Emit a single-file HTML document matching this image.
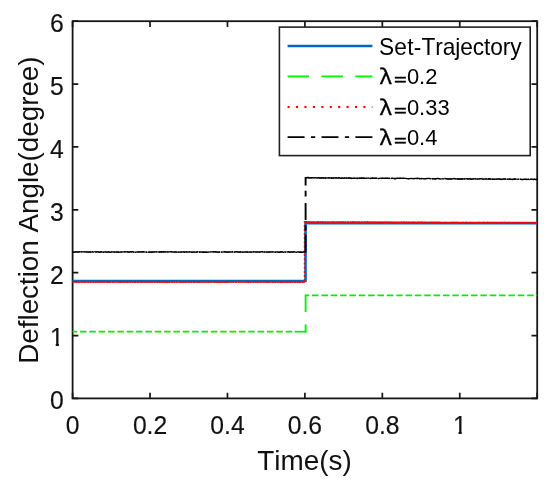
<!DOCTYPE html>
<html><head><meta charset="utf-8"><title>plot</title>
<style>
html,body{margin:0;padding:0;background:#fff;}
svg{display:block}
text{font-family:"Liberation Sans",sans-serif;fill:#111;font-kerning:none;}
.tk{font-size:24.7px;stroke:#111;stroke-width:0.15px}
.lb{font-size:27.9px}
.lg{font-size:21.95px;fill:#000}
.lam{font-family:"Noto Sans CJK SC","Liberation Sans",sans-serif;font-size:19.8px;fill:#000}
</style></head><body>
<svg width="550" height="481" viewBox="0 0 550 481">
<rect width="550" height="481" fill="#fff"/>
<defs><clipPath id="c1x"><path d="M-9.87 -30.00H13.13V-2.30H1.96V3.00H-1.19V-2.30H-9.87Z"/></clipPath><clipPath id="c1y"><path d="M-16.73 -30.00H6.27V-2.30H-4.91V3.00H-8.06V-2.30H-16.73Z"/></clipPath></defs>
<rect x="72.6" y="21.2" width="464.6" height="377.2" fill="#fff" stroke="#161616" stroke-width="1.8"/>
<path d="M72.60 398.4v-5.7M72.60 21.2v5.7M150.03 398.4v-5.7M150.03 21.2v5.7M227.47 398.4v-5.7M227.47 21.2v5.7M304.90 398.4v-5.7M304.90 21.2v5.7M382.33 398.4v-5.7M382.33 21.2v5.7M459.77 398.4v-5.7M459.77 21.2v5.7M537.20 398.4v-5.7M537.20 21.2v5.7M72.6 398.40h5.7M537.2 398.40h-5.7M72.6 335.53h5.7M537.2 335.53h-5.7M72.6 272.67h5.7M537.2 272.67h-5.7M72.6 209.80h5.7M537.2 209.80h-5.7M72.6 146.93h5.7M537.2 146.93h-5.7M72.6 84.07h5.7M537.2 84.07h-5.7M72.6 21.20h5.7M537.2 21.20h-5.7" stroke="#161616" stroke-width="1.7" fill="none"/>
<text transform="translate(72.60 434.40) scale(1.0 1.04)" text-anchor="middle" class="tk">0</text>
<text transform="translate(150.03 434.40) scale(1.0 1.04)" text-anchor="middle" class="tk">0.2</text>
<text transform="translate(227.47 434.40) scale(1.0 1.04)" text-anchor="middle" class="tk">0.4</text>
<text transform="translate(304.90 434.40) scale(1.0 1.04)" text-anchor="middle" class="tk">0.6</text>
<text transform="translate(382.33 434.40) scale(1.0 1.04)" text-anchor="middle" class="tk">0.8</text>
<text transform="translate(459.77 434.40) scale(1.0 1.04)" text-anchor="middle" class="tk" clip-path="url(#c1x)">1</text>
<text transform="translate(63.80 409.35) scale(1.0 1.04)" text-anchor="end" class="tk">0</text>
<text transform="translate(63.80 346.48) scale(1.0 1.04)" text-anchor="end" class="tk" clip-path="url(#c1y)">1</text>
<text transform="translate(63.80 283.62) scale(1.0 1.04)" text-anchor="end" class="tk">2</text>
<text transform="translate(63.80 220.75) scale(1.0 1.04)" text-anchor="end" class="tk">3</text>
<text transform="translate(63.80 157.88) scale(1.0 1.04)" text-anchor="end" class="tk">4</text>
<text transform="translate(63.80 95.02) scale(1.0 1.04)" text-anchor="end" class="tk">5</text>
<text transform="translate(63.80 32.15) scale(1.0 1.04)" text-anchor="end" class="tk">6</text>
<text transform="translate(304.50 469.90) scale(1.0 1.02)" text-anchor="middle" class="lb">Time(s)</text>
<text transform="translate(37.80 210.10) rotate(-90) scale(1.0 1.02)" text-anchor="middle" class="lb" style="font-size:27.8px">Deflection Angle(degree)</text>
<path d="M306.5 331.7H294.6" stroke="#00f000" fill="none" stroke-width="1.7"/>
<path d="M292.20000000000005 331.7H72.6" stroke="#00f000" fill="none" stroke-width="1.7" stroke-dasharray="6.55 2.8"/>
<path d="M305.6 295.3H537.2" stroke="#00f000" fill="none" stroke-width="1.7" stroke-dasharray="6.55 2.8" stroke-dashoffset="2.9"/>
<path d="M305.6 332.4V294.4" stroke="#00f000" fill="none" stroke-width="1.8" stroke-dasharray="7.9 12.5 40"/>
<path d="M72.6 281.0H305.50V223.1H537.2" stroke="#0568bd" stroke-width="2.6" fill="none"/>
<path d="M72.6 282.1H304.80" stroke="#ff0000" fill="none" stroke-linejoin="round" stroke-width="1.3" stroke-dasharray="2.2 0.6"/>
<path d="M304.80 222.0L537.2 222.9" stroke="#ff0000" fill="none" stroke-linejoin="round" stroke-width="1.3" stroke-dasharray="2.2 0.6"/>
<path d="M72.6 281.99L73.9 281.89L75.2 282.19L76.5 281.84L77.8 282.12L79.1 282.02L80.4 281.83L81.7 282.10L83.0 281.82L84.3 282.06L85.6 281.84L86.9 281.85L88.3 282.05L89.6 282.30L90.9 281.87L92.2 281.93L93.5 282.18L94.8 282.37L96.1 282.15L97.4 282.04L98.7 282.39L100.0 281.83L101.3 282.32L102.6 281.97L103.9 281.89L105.2 281.87L106.5 281.99L107.8 282.29L109.1 281.91L110.4 282.15L111.7 282.18L113.0 282.02L114.3 282.13L115.6 281.84L117.0 281.84L118.3 281.92L119.6 282.21L120.9 282.06L122.2 281.99L123.5 282.15L124.8 282.07L126.1 281.98L127.4 282.28L128.7 282.22L130.0 281.95L131.3 282.14L132.6 282.12L133.9 282.33L135.2 282.24L136.5 281.97L137.8 282.39L139.1 281.87L140.4 282.05L141.7 282.25L143.0 281.89L144.3 282.09L145.7 281.82L147.0 282.20L148.3 282.26L149.6 282.14L150.9 282.33L152.2 281.99L153.5 282.22L154.8 282.16L156.1 282.15L157.4 282.07L158.7 282.30L160.0 282.37L161.3 282.08L162.6 282.20L163.9 281.84L165.2 282.22L166.5 282.19L167.8 282.40L169.1 282.29L170.4 281.97L171.7 282.03L173.0 282.20L174.4 281.81L175.7 282.08L177.0 281.90L178.3 281.87L179.6 281.84L180.9 282.26L182.2 281.88L183.5 281.95L184.8 282.03L186.1 282.32L187.4 281.85L188.7 282.07L190.0 282.13L191.3 282.33L192.6 282.29L193.9 282.32L195.2 281.97L196.5 282.05L197.8 282.02L199.1 282.33L200.4 282.37L201.7 281.89L203.0 281.91L204.4 281.94L205.7 281.94L207.0 282.09L208.3 282.15L209.6 281.96L210.9 281.80L212.2 282.05L213.5 282.02L214.8 282.14L216.1 282.37L217.4 282.21L218.7 282.11L220.0 282.17L221.3 282.21L222.6 281.83L223.9 282.34L225.2 282.27L226.5 282.32L227.8 282.28L229.1 282.04L230.4 282.04L231.7 281.86L233.1 282.18L234.4 281.84L235.7 281.84L237.0 281.93L238.3 281.90L239.6 282.00L240.9 281.83L242.2 281.80L243.5 281.89L244.8 281.86L246.1 282.02L247.4 281.82L248.7 282.32L250.0 282.17L251.3 281.89L252.6 281.95L253.9 282.01L255.2 282.02L256.5 281.87L257.8 282.31L259.1 282.40L260.4 282.08L261.8 282.09L263.1 281.85L264.4 281.86L265.7 282.01L267.0 281.96L268.3 282.30L269.6 281.90L270.9 281.81L272.2 282.37L273.5 282.12L274.8 281.89L276.1 282.13L277.4 281.82L278.7 282.12L280.0 282.39L281.3 282.32L282.6 282.22L283.9 281.96L285.2 282.02L286.5 281.90L287.8 282.26L289.1 282.12L290.5 282.27L291.8 282.00L293.1 281.93L294.4 282.29L295.7 282.39L297.0 282.31L298.3 282.28L299.6 282.29L300.9 282.24L302.2 281.94L303.5 282.11L304.8 282.01" stroke="#ff0000" fill="none" stroke-linejoin="round" stroke-width="1.4" stroke-dasharray="2 0.5"/>
<path d="M304.8 221.72L306.1 221.72L307.4 221.88L308.7 221.87L310.0 222.14L311.3 222.30L312.6 222.00L313.9 222.30L315.2 222.33L316.6 222.32L317.9 221.97L319.2 221.89L320.5 221.90L321.8 221.88L323.1 221.89L324.4 222.15L325.7 222.32L327.0 222.29L328.3 222.08L329.6 222.19L330.9 222.28L332.2 221.86L333.5 222.21L334.8 222.36L336.1 222.29L337.4 222.28L338.7 222.12L340.1 221.94L341.4 222.32L342.7 222.05L344.0 222.33L345.3 222.44L346.6 222.10L347.9 222.11L349.2 222.44L350.5 222.31L351.8 221.98L353.1 221.96L354.4 221.98L355.7 222.44L357.0 222.39L358.3 222.00L359.6 222.41L360.9 222.51L362.2 222.32L363.6 222.14L364.9 222.26L366.2 222.02L367.5 221.95L368.8 222.53L370.1 222.34L371.4 222.27L372.7 222.52L374.0 222.23L375.3 222.50L376.6 222.47L377.9 222.11L379.2 222.14L380.5 222.17L381.8 222.14L383.1 222.36L384.4 222.16L385.7 222.26L387.1 222.10L388.4 222.57L389.7 222.24L391.0 222.31L392.3 222.39L393.6 222.59L394.9 222.30L396.2 222.60L397.5 222.36L398.8 222.38L400.1 222.38L401.4 222.09L402.7 222.34L404.0 222.19L405.3 222.09L406.6 222.57L407.9 222.20L409.2 222.39L410.6 222.54L411.9 222.45L413.2 222.32L414.5 222.44L415.8 222.46L417.1 222.61L418.4 222.20L419.7 222.48L421.0 222.30L422.3 222.32L423.6 222.62L424.9 222.47L426.2 222.51L427.5 222.63L428.8 222.73L430.1 222.45L431.4 222.56L432.8 222.50L434.1 222.51L435.4 222.62L436.7 222.48L438.0 222.54L439.3 222.51L440.6 222.79L441.9 222.65L443.2 222.76L444.5 222.81L445.8 222.40L447.1 222.59L448.4 222.82L449.7 222.77L451.0 222.35L452.3 222.34L453.6 222.54L454.9 222.32L456.3 222.43L457.6 222.34L458.9 222.70L460.2 222.77L461.5 222.84L462.8 222.40L464.1 222.75L465.4 222.72L466.7 222.41L468.0 222.86L469.3 222.92L470.6 222.47L471.9 222.92L473.2 222.59L474.5 222.65L475.8 222.96L477.1 222.87L478.4 222.47L479.8 222.64L481.1 222.69L482.4 222.59L483.7 222.51L485.0 222.59L486.3 222.84L487.6 222.42L488.9 222.75L490.2 222.68L491.5 222.43L492.8 222.63L494.1 222.81L495.4 222.75L496.7 222.48L498.0 223.04L499.3 222.93L500.6 223.04L501.9 222.53L503.3 222.63L504.6 222.50L505.9 222.95L507.2 222.65L508.5 222.57L509.8 222.75L511.1 223.05L512.4 223.00L513.7 222.66L515.0 222.60L516.3 223.07L517.6 222.87L518.9 222.95L520.2 222.59L521.5 222.57L522.8 222.96L524.1 222.80L525.4 222.60L526.8 223.12L528.1 222.95L529.4 223.05L530.7 222.62L532.0 223.09L533.3 222.62L534.6 223.11L535.9 222.87L537.2 222.80" stroke="#ff0000" fill="none" stroke-linejoin="round" stroke-width="1.4" stroke-dasharray="2 0.5"/>
<path d="M304.70 282.5V221" stroke="#ff0000" stroke-width="1.8" fill="none" stroke-dasharray="2 2.2" stroke-dashoffset="-1.2"/>
<path d="M72.6 252.0H305.6" stroke="#000" fill="none" stroke-linejoin="round" stroke-width="1.2" stroke-dasharray="9 0.8 2 0.8"/>
<path d="M305.6 177.8L537.2 179.4" stroke="#000" fill="none" stroke-linejoin="round" stroke-width="1.2" stroke-dasharray="9 0.8 2 0.8"/>
<path d="M72.6 252.04L73.9 252.34L75.2 251.81L76.5 251.70L77.8 252.02L79.1 251.79L80.4 251.69L81.7 251.73L83.0 251.64L84.3 251.76L85.6 251.85L86.9 251.84L88.2 252.21L89.5 251.83L90.8 252.00L92.1 251.74L93.4 251.88L94.7 251.61L96.0 251.80L97.3 251.61L98.6 252.19L99.9 252.04L101.2 251.75L102.5 251.98L103.8 252.35L105.1 251.69L106.4 252.26L107.7 251.95L109.0 252.00L110.3 252.27L111.7 251.91L113.0 252.01L114.3 252.15L115.6 252.39L116.9 251.87L118.2 252.27L119.5 252.17L120.8 252.11L122.1 251.92L123.4 251.88L124.7 251.64L126.0 251.70L127.3 251.66L128.6 252.19L129.9 251.80L131.2 251.73L132.5 251.67L133.8 252.27L135.1 252.30L136.4 252.14L137.7 251.83L139.0 251.79L140.3 251.83L141.6 251.97L142.9 251.73L144.2 251.96L145.5 251.81L146.8 252.37L148.1 252.38L149.4 252.04L150.7 251.80L152.0 252.37L153.3 251.85L154.6 251.89L155.9 251.60L157.2 251.91L158.5 251.98L159.8 252.00L161.1 251.76L162.4 252.00L163.7 251.60L165.0 251.81L166.3 251.67L167.6 251.92L168.9 251.63L170.2 251.62L171.5 251.84L172.8 251.79L174.1 252.07L175.4 252.02L176.7 252.20L178.0 252.13L179.3 252.17L180.6 252.30L181.9 251.91L183.2 251.86L184.5 252.39L185.8 251.72L187.1 252.18L188.4 252.11L189.8 251.64L191.1 252.27L192.4 252.31L193.7 252.10L195.0 252.19L196.3 252.25L197.6 251.71L198.9 252.02L200.2 252.00L201.5 252.27L202.8 252.24L204.1 252.26L205.4 252.07L206.7 252.31L208.0 252.15L209.3 252.15L210.6 251.78L211.9 251.62L213.2 251.71L214.5 251.89L215.8 251.68L217.1 252.27L218.4 252.05L219.7 252.10L221.0 252.10L222.3 252.14L223.6 251.99L224.9 251.60L226.2 252.24L227.5 252.20L228.8 252.00L230.1 252.03L231.4 252.13L232.7 251.65L234.0 252.19L235.3 251.80L236.6 251.66L237.9 251.81L239.2 252.18L240.5 251.76L241.8 252.19L243.1 252.38L244.4 252.00L245.7 251.91L247.0 251.98L248.3 252.15L249.6 252.21L250.9 252.09L252.2 252.11L253.5 251.66L254.8 251.72L256.1 251.80L257.4 252.19L258.7 251.84L260.0 252.05L261.3 251.61L262.6 251.65L263.9 251.82L265.2 252.14L266.5 252.15L267.9 252.14L269.2 251.83L270.5 252.01L271.8 251.97L273.1 251.97L274.4 251.69L275.7 252.31L277.0 251.76L278.3 252.38L279.6 252.35L280.9 251.61L282.2 251.97L283.5 252.26L284.8 252.37L286.1 251.96L287.4 251.81L288.7 251.77L290.0 252.36L291.3 251.77L292.6 252.07L293.9 251.71L295.2 252.02L296.5 252.36L297.8 251.71L299.1 252.26L300.4 252.01L301.7 252.31L303.0 252.16L304.3 251.79L305.6 252.32" stroke="#000" fill="none" stroke-linejoin="round" stroke-width="1.3" stroke-dasharray="8 0.6 1.8 0.6"/>
<path d="M305.6 177.79L306.9 177.43L308.2 177.42L309.5 177.82L310.8 177.80L312.1 177.69L313.4 177.57L314.7 177.74L316.0 177.72L317.3 178.15L318.6 177.49L319.9 178.10L321.2 178.18L322.5 177.61L323.8 178.27L325.1 178.11L326.4 178.27L327.7 177.78L329.0 177.86L330.3 177.89L331.6 178.38L332.9 178.06L334.2 177.89L335.5 177.95L336.8 177.84L338.1 177.66L339.4 177.72L340.7 178.31L342.0 177.88L343.3 178.41L344.6 177.87L345.9 177.89L347.2 178.10L348.5 177.85L349.8 178.00L351.1 178.48L352.4 178.43L353.7 178.38L355.0 178.25L356.3 178.48L357.6 178.51L358.9 178.21L360.2 178.35L361.5 177.83L362.8 178.38L364.2 178.17L365.5 178.42L366.8 178.34L368.1 178.06L369.4 177.88L370.7 178.59L372.0 177.96L373.3 178.25L374.6 178.15L375.9 178.12L377.2 178.49L378.5 178.68L379.8 178.12L381.1 178.45L382.4 178.17L383.7 178.39L385.0 178.26L386.3 178.09L387.6 178.10L388.9 178.14L390.2 178.71L391.5 178.39L392.8 178.18L394.1 178.74L395.4 178.82L396.7 178.39L398.0 178.15L399.3 178.20L400.6 178.13L401.9 178.34L403.2 178.15L404.5 178.27L405.8 178.30L407.1 178.56L408.4 178.82L409.7 178.72L411.0 178.46L412.3 178.47L413.6 178.57L414.9 178.46L416.2 178.43L417.5 178.22L418.8 178.40L420.1 178.97L421.4 178.30L422.7 178.61L424.0 178.72L425.3 178.92L426.6 178.41L427.9 178.46L429.2 178.45L430.5 178.58L431.8 178.63L433.1 179.04L434.4 178.97L435.7 179.00L437.0 178.33L438.3 178.34L439.6 178.89L440.9 179.05L442.2 178.72L443.5 178.82L444.8 178.36L446.1 178.68L447.4 179.12L448.7 179.05L450.0 179.08L451.3 179.18L452.6 178.61L453.9 178.51L455.2 178.56L456.5 178.86L457.8 179.00L459.1 179.21L460.4 179.05L461.7 179.00L463.0 179.10L464.3 178.86L465.6 178.95L466.9 178.55L468.2 179.15L469.5 178.72L470.8 179.28L472.1 179.07L473.4 178.80L474.7 178.67L476.0 178.78L477.3 179.10L478.6 179.15L480.0 178.69L481.3 178.67L482.6 179.04L483.9 179.10L485.2 178.95L486.5 178.83L487.8 179.14L489.1 178.68L490.4 178.92L491.7 179.05L493.0 179.46L494.3 179.22L495.6 179.42L496.9 179.10L498.2 178.92L499.5 178.94L500.8 179.52L502.1 179.32L503.4 179.01L504.7 178.79L506.0 179.18L507.3 179.33L508.6 179.14L509.9 179.02L511.2 179.35L512.5 179.57L513.8 179.02L515.1 178.87L516.4 179.13L517.7 179.20L519.0 179.42L520.3 179.04L521.6 179.53L522.9 179.49L524.2 179.31L525.5 179.08L526.8 179.70L528.1 179.19L529.4 179.60L530.7 179.14L532.0 179.14L533.3 179.58L534.6 179.22L535.9 179.75L537.2 179.40" stroke="#000" fill="none" stroke-linejoin="round" stroke-width="1.3" stroke-dasharray="8 0.6 1.8 0.6"/>
<path d="M305.6 176.9V252.6" stroke="#000" stroke-width="1.9" fill="none" stroke-dasharray="8.6 5.3 5.8 6.4 17 5.5 5.1 3.9 30"/>
<rect x="279.4" y="27.1" width="250.80000000000007" height="128.5" fill="#fff" stroke="#222" stroke-width="1.6"/>
<path d="M287.6 46H372.4" stroke="#0568bd" stroke-width="2.5"/>
<path d="M287.6 76.4H372.4" stroke="#00f400" stroke-width="1.8" stroke-dasharray="21.5 12.3"/>
<path d="M287.6 107H372.4" stroke="#ff0000" stroke-width="1.9" stroke-dasharray="2.1 6.32"/>
<path d="M287.6 137.2H372.4" stroke="#000" stroke-width="1.8" stroke-dasharray="17 6.4 4.2 6.3"/>
<text transform="translate(378.90 54.70) scale(1.0 1.04)" class="lg" style="font-size:22.7px"><tspan letter-spacing="0.3">Set-</tspan><tspan x="42.6" letter-spacing="-0.08">Trajectory</tspan></text>
<text transform="translate(379.6 84.1) scale(1.13 1.02)" class="lam" stroke="#000" stroke-width="0.3">λ</text>
<text transform="translate(393.9 84.9) scale(0.99 0.74)" class="lg" stroke="#000" stroke-width="0.55">=</text>
<text transform="translate(406.90 84.30) scale(1.0 1.03)" class="lg">0.2</text>
<text transform="translate(379.6 114.69999999999999) scale(1.13 1.02)" class="lam" stroke="#000" stroke-width="0.3">λ</text>
<text transform="translate(393.9 115.5) scale(0.99 0.74)" class="lg" stroke="#000" stroke-width="0.55">=</text>
<text transform="translate(406.90 114.90) scale(1.0 1.03)" class="lg">0.33</text>
<text transform="translate(379.6 145.0) scale(1.13 1.02)" class="lam" stroke="#000" stroke-width="0.3">λ</text>
<text transform="translate(393.9 145.8) scale(0.99 0.74)" class="lg" stroke="#000" stroke-width="0.55">=</text>
<text transform="translate(406.90 145.20) scale(1.0 1.03)" class="lg">0.4</text>
</svg>
</body></html>
